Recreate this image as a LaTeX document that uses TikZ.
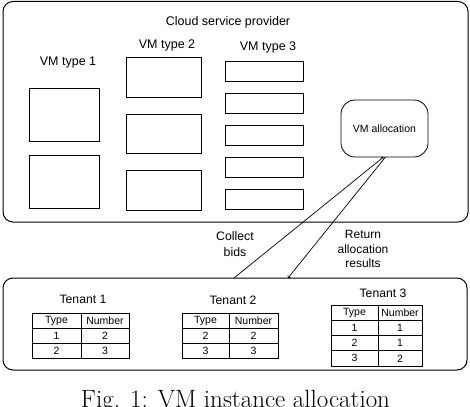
\documentclass[tikz,border=0pt]{standalone}
\usepackage{fontspec}
\newfontfamily\diagfont{Liberation Sans}
\usetikzlibrary{positioning}

\tikzset{
  lbl/.style={font=\diagfont\fontsize{12.5}{14}\selectfont, inner sep=0pt},
  vmbox/.style={draw, line width=0.8pt, inner sep=0pt, outer sep=0pt},
  cell/.style={draw, line width=0.8pt, inner sep=0pt, outer sep=0pt, minimum height=15,
    font=\diagfont\fontsize{10.5}{12}\selectfont},
  bigbox/.style={draw, line width=1pt, rounded corners=10, inner sep=0pt, outer sep=0pt, anchor=north west}
}

\begin{document}
\begin{tikzpicture}[x=1pt,y=-1pt]
    \useasboundingbox (0,0) rectangle (470,406);
    \clip (0,0) rectangle (470,406);
    % provider side
    \node[bigbox, minimum width=465, minimum height=220.5] (csp) at (3,1.5) {};
    \node[lbl] (csplbl) at (228,22) {Cloud service provider};
    \node[lbl] (type1) at (68,62) {VM type 1};
    \node[lbl] (type2) at (167,45) {VM type 2};
    \node[lbl] (type3) at (268,47) {VM type 3};
    \foreach \y [count=\i] in {114.5,181.5}{% big instances
      \node[vmbox, minimum width=70, minimum height=53] (vmA\i) at (64,\y) {};}
    \foreach \y [count=\i] in {77.5,134,190.5}{% medium instances
      \node[vmbox, minimum width=75, minimum height=39.5] (vmB\i) at (163.5,\y) {};}
    \foreach \y [count=\i] in {71,103,135,167,199}{% small instances
      \node[vmbox, minimum width=78, minimum height=20] (vmC\i) at (264,\y) {};}
    \node[vmbox, rounded corners=14, minimum width=87, minimum height=57,
      font=\diagfont\fontsize{10.5}{12}\selectfont] (alloc) at (384.5,128.5) {VM allocation};
    % tenant side
    \node[bigbox, minimum width=464, minimum height=92] (tenants) at (3,278) {};
    \coordinate (bidsrc) at (234,278);
    \coordinate (resdst) at (288,278);
    \draw[->, line width=0.7pt] (bidsrc) -- ([xshift=-1]alloc.south);
    \draw[->, line width=0.7pt] ([xshift=1]alloc.south) -- (resdst);
    \node[lbl, align=center, font=\diagfont\fontsize{12.3}{15.5}\selectfont] (bids) at (235,244) {Collect\\bids};
    \node[lbl, align=center, font=\diagfont\fontsize{12}{14.5}\selectfont] (results) at (363,249) {Return\\allocation\\results};
    \node[lbl, font=\diagfont\fontsize{12.2}{14}\selectfont] (ten1) at (83,299) {Tenant 1};
    \foreach \a/\b [count=\r from 0] in {Type/Number,1/2,2/3}{
      \node[cell, minimum width=49] (t1a\r) at (56.5,320.5+15*\r) {\a};
      \node[cell, minimum width=48] (t1b\r) at (105,320.5+15*\r) {\b};}
    \node[lbl, font=\diagfont\fontsize{12.2}{14}\selectfont] (ten2) at (233,300) {Tenant 2};
    \foreach \a/\b [count=\r from 0] in {Type/Number,2/2,3/3}{
      \node[cell, minimum width=47] (t2a\r) at (205.5,320.5+15*\r) {\a};
      \node[cell, minimum width=49] (t2b\r) at (253.5,320.5+15*\r) {\b};}
    \node[lbl, font=\diagfont\fontsize{12.2}{14}\selectfont] (ten3) at (383,293) {Tenant 3};
    \foreach \a/\b [count=\r from 0] in {Type/Number,1/1,2/1,3/2}{
      \node[cell, minimum width=47, minimum height=15.25] (t3a\r) at (354.5,312.6+15.25*\r) {\a};
      \node[cell, minimum width=44, minimum height=15.25] (t3b\r) at (400,312.6+15.25*\r) {\b};}
    % caption, cut at the bottom edge
    \node[anchor=base, inner sep=0pt, font=\fontsize{25}{30}\selectfont] (caption) at (235.5,407) {Fig. 1: VM instance allocation};
\end{tikzpicture}
\end{document}
